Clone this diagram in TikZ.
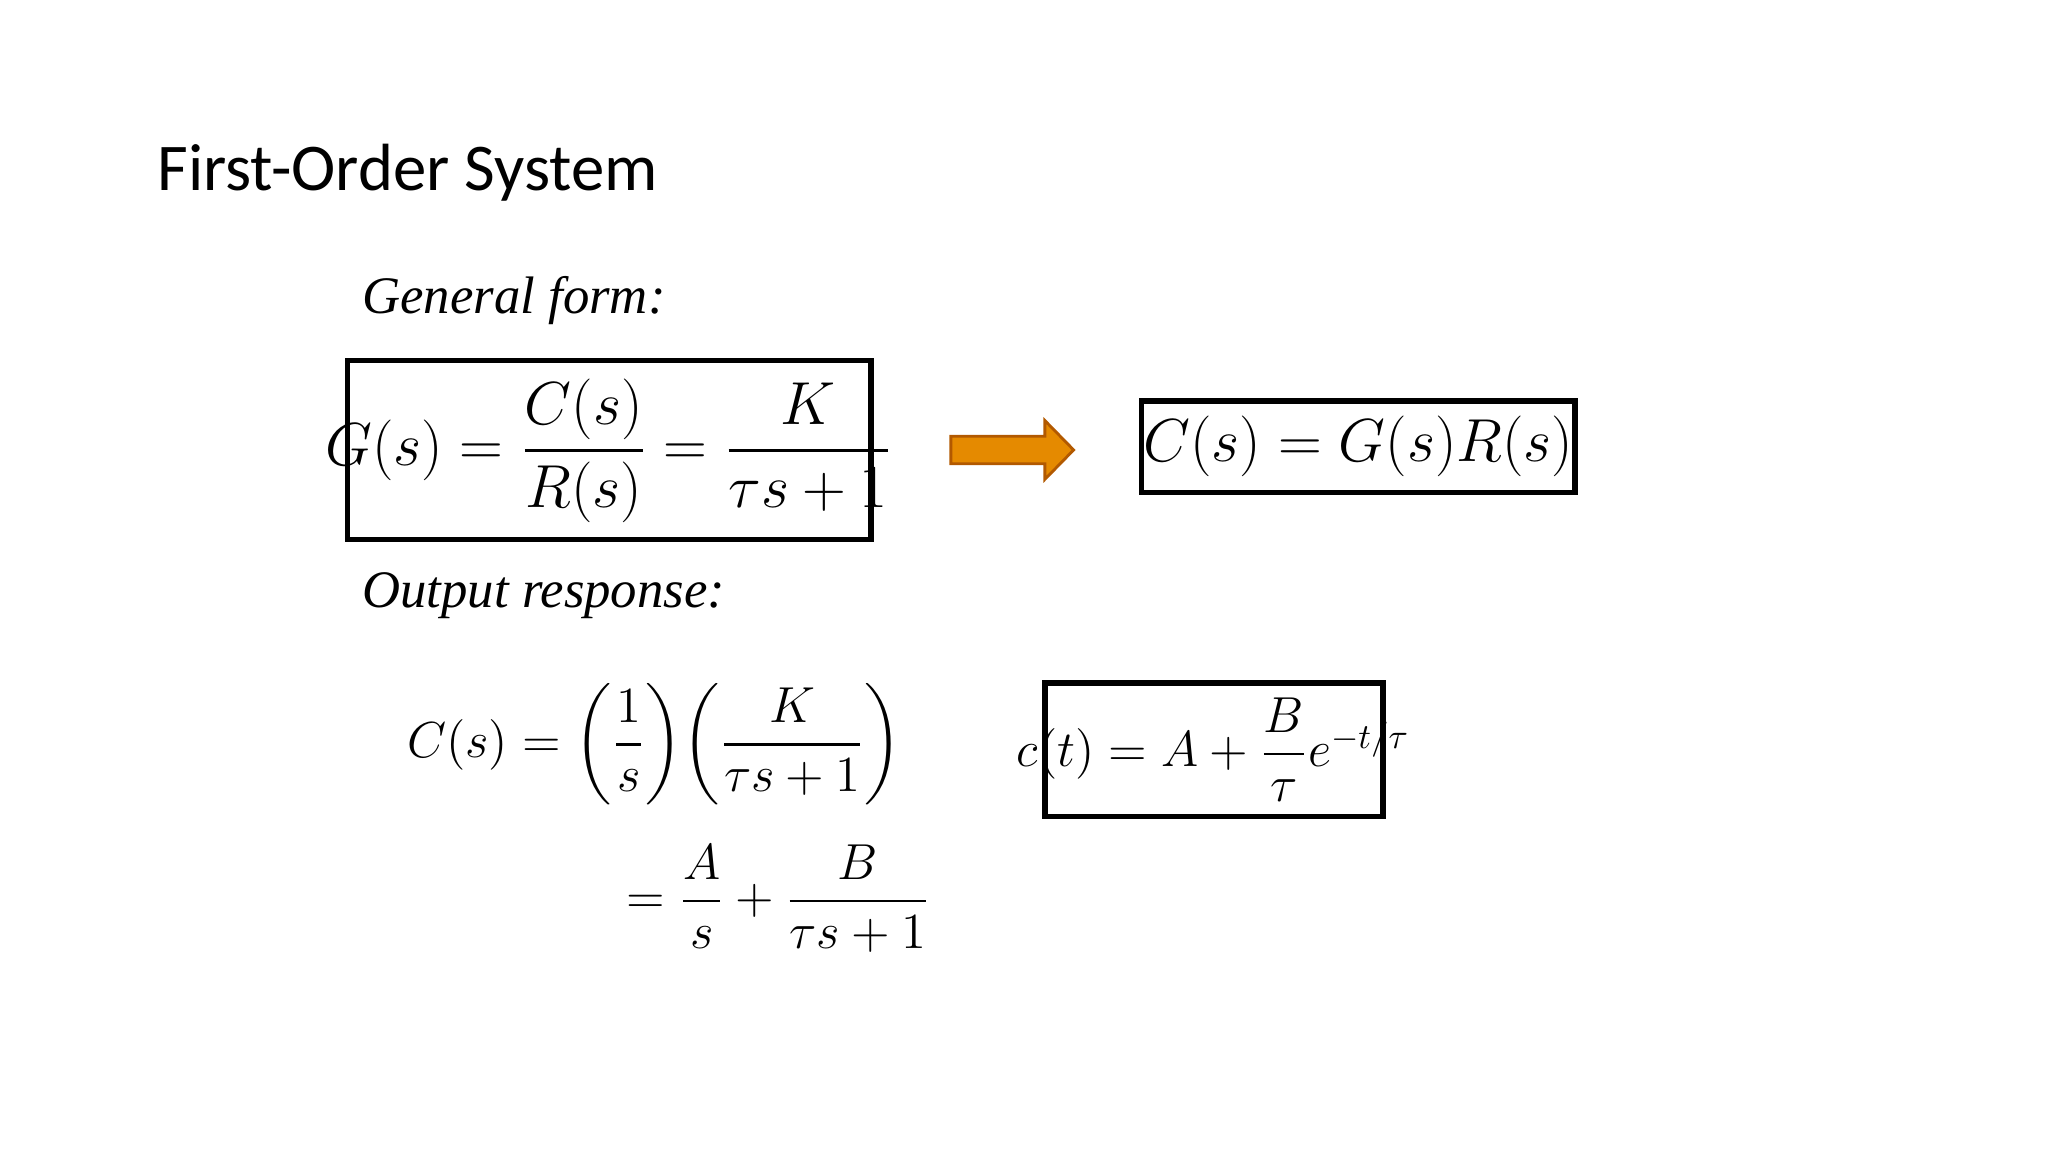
\documentclass[tikz,border=0pt]{standalone}
\usepackage{amsmath}
\usepackage{fontspec}
\setmainfont{Liberation Serif}
\newfontfamily\titlefont{Carlito}
\tikzset{
  eqbox/.style={draw=black,line width=1.6pt,inner sep=0pt},
  lbl/.style={anchor=base west,inner sep=0pt,font=\fontsize{15}{18}\selectfont\itshape},
}
\begin{document}
\begin{tikzpicture}[x=0.013061cm,y=-0.013061cm]
\useasboundingbox (0,0) rectangle (1568,882);
\node[anchor=base west,inner sep=0pt,font=\titlefont\fontsize{19}{22}\selectfont] (title) at (120,146) {First-Order System};
\node[lbl] (gen) at (277,240) {General form:};
\node[lbl] (out) at (277,465) {Output response:};
\draw[eqbox] (266,276) rectangle (667,413);
\node[font=\fontsize{19}{22}\selectfont] (g) at (466,345) {$G(s)=\dfrac{C(s)}{R(s)}=\dfrac{K}{\tau s+1}$};
\draw[eqbox] (874,307) rectangle (1206,377);
\node[font=\fontsize{19}{22}\selectfont] (c) at (1040,342) {$C(s)=G(s)R(s)$};
\draw[fill=orange!80!yellow!90!black,draw=orange!70!black,line width=0.8pt]
  (728,334) -- (800,334) -- (800,322) -- (822,344.5) -- (800,367) -- (800,355) -- (728,355) -- cycle;
\node[font=\fontsize{14}{17}\selectfont,anchor=east] (cs) at (700,570) {$C(s)=\left(\dfrac{1}{s}\right)\!\left(\dfrac{K}{\tau s+1}\right)$};
\node[font=\fontsize{14}{17}\selectfont,anchor=west] (ab) at (470,688) {$=\dfrac{A}{s}+\dfrac{B}{\tau s+1}$};
\draw[eqbox] (800,523) rectangle (1059,625);
\node[font=\fontsize{14}{17}\selectfont] (ct) at (929,574) {$c(t)=A+\dfrac{B}{\tau}e^{-t/\tau}$};
\end{tikzpicture}
\end{document}
